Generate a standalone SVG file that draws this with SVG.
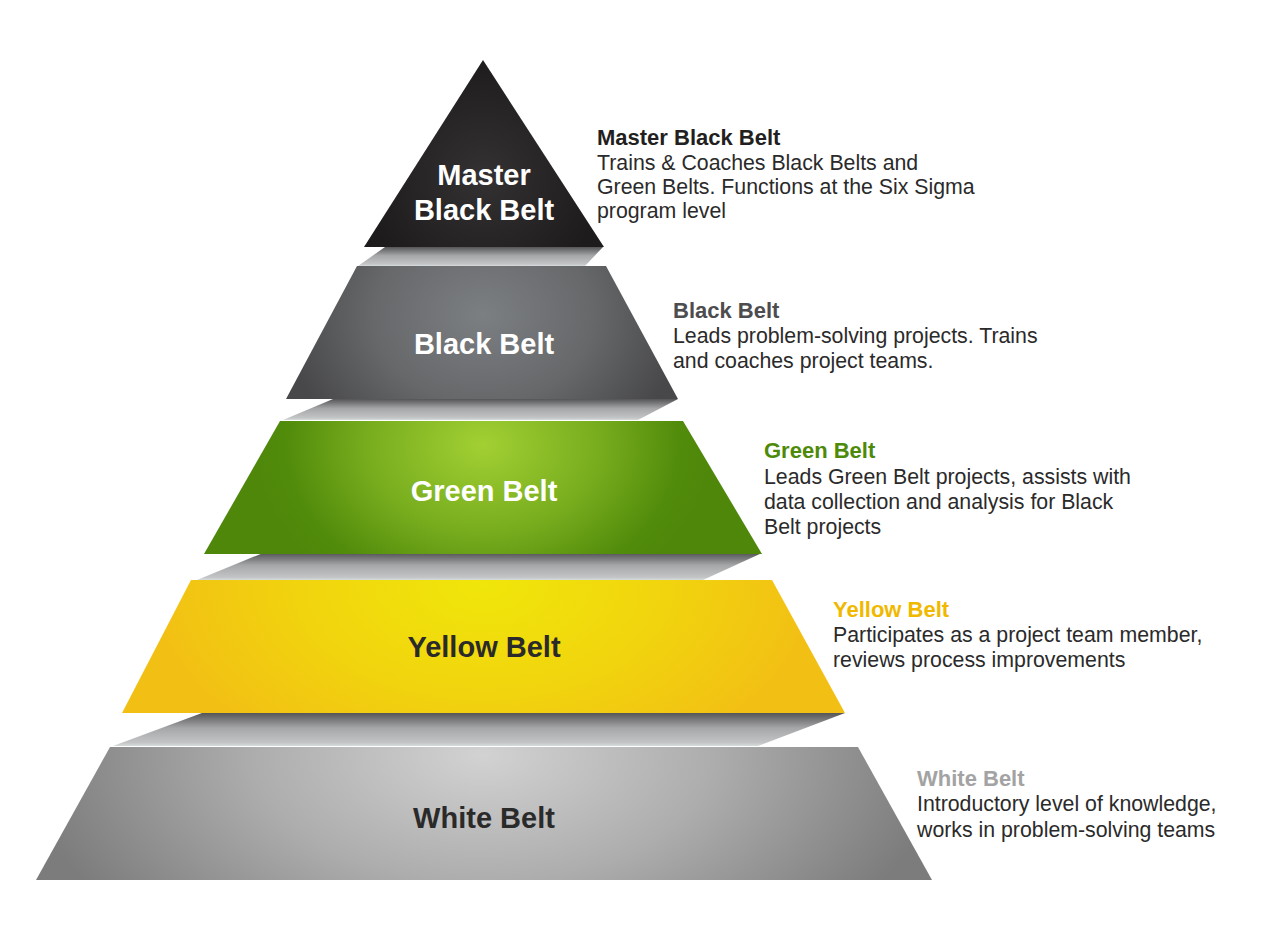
<svg xmlns="http://www.w3.org/2000/svg" width="1280" height="927" viewBox="0 0 1280 927">
<defs>
<linearGradient id="band" x1="0" y1="0" x2="0" y2="1">
<stop offset="0" stop-color="#555557"/>
<stop offset="0.45" stop-color="#a5a6a8"/>
<stop offset="0.9" stop-color="#c3c4c6"/>
<stop offset="1" stop-color="#d6dcdc"/>
</linearGradient>
<radialGradient id="gMaster" cx="483" cy="175" r="120" gradientUnits="userSpaceOnUse">
<stop offset="0" stop-color="#333132"/>
<stop offset="1" stop-color="#1e1b1c"/>
</radialGradient>
<radialGradient id="gBlack" cx="483" cy="315" r="200" gradientTransform="translate(483 315) scale(1 0.8) translate(-483 -315)" gradientUnits="userSpaceOnUse">
<stop offset="0" stop-color="#7c7f82"/>
<stop offset="0.55" stop-color="#66686a"/>
<stop offset="1" stop-color="#48484a"/>
</radialGradient>
<radialGradient id="gGreen" cx="483" cy="445" r="230" gradientTransform="translate(483 445) scale(1 0.75) translate(-483 -445)" gradientUnits="userSpaceOnUse">
<stop offset="0" stop-color="#a2d033"/>
<stop offset="0.5" stop-color="#78ad1e"/>
<stop offset="0.85" stop-color="#528c0b"/>
<stop offset="1" stop-color="#4e870a"/>
</radialGradient>
<radialGradient id="gYellow" cx="483" cy="585" r="330" gradientTransform="translate(483 585) scale(1 0.6) translate(-483 -585)" gradientUnits="userSpaceOnUse">
<stop offset="0" stop-color="#f0e60a"/>
<stop offset="0.55" stop-color="#f1d40e"/>
<stop offset="1" stop-color="#f2c014"/>
</radialGradient>
<radialGradient id="gWhite" cx="483" cy="755" r="460" gradientTransform="translate(483 755) scale(1 0.55) translate(-483 -755)" gradientUnits="userSpaceOnUse">
<stop offset="0" stop-color="#d2d2d2"/>
<stop offset="0.5" stop-color="#adadad"/>
<stop offset="1" stop-color="#7c7c7c"/>
</radialGradient>
</defs>
<style>
.lbl{font-family:"Liberation Sans",Arial,sans-serif;font-weight:bold;font-size:29px;text-anchor:middle}
.w{fill:#ffffff}
.d{fill:#2b2a2a}
.hd{font-family:"Liberation Sans",Arial,sans-serif;font-weight:bold;font-size:22px}
.tx{font-family:"Liberation Sans",Arial,sans-serif;font-size:21.3px;fill:#2b2a2a}
</style>
<rect width="1280" height="927" fill="#ffffff"/>
<g id="connectors">
<polygon points="385,247 603,247 585,266 358,266" fill="url(#band)"/>
<polygon points="333,399 678,399 638,420 283,420" fill="url(#band)"/>
<polygon points="263,553 762,553 703,580 197,580" fill="url(#band)"/>
<polygon points="202,713 845,713 758,746 113,746" fill="url(#band)"/>
</g>
<g id="master">
<polygon points="483,60 604,247 364,247" fill="url(#gMaster)"/>
<text class="lbl w" x="484" y="185">Master</text>
<text class="lbl w" x="484" y="220">Black Belt</text>
</g>
<g id="black">
<polygon points="357,266 606,266 678,399 286,399" fill="url(#gBlack)"/>
<text class="lbl w" x="484" y="354">Black Belt</text>
</g>
<g id="green">
<polygon points="280,421 683,421 762,554 204,554" fill="url(#gGreen)"/>
<text class="lbl w" x="484" y="501">Green Belt</text>
</g>
<g id="yellow">
<polygon points="191,580 772,580 845,713 122,713" fill="url(#gYellow)"/>
<text class="lbl d" x="484" y="657">Yellow Belt</text>
</g>
<g id="white">
<polygon points="110,747 858,747 932,880 36,880" fill="url(#gWhite)"/>
<text class="lbl d" x="484" y="828">White Belt</text>
</g>
<g id="desc-master">
<text class="hd" x="597" y="145" fill="#231f20">Master Black Belt</text>
<text class="tx" x="597" y="170">Trains &amp; Coaches Black Belts and</text>
<text class="tx" x="597" y="194">Green Belts. Functions at the Six Sigma</text>
<text class="tx" x="597" y="218">program level</text>
</g>
<g id="desc-black">
<text class="hd" x="673" y="318" fill="#4d4d4f">Black Belt</text>
<text class="tx" x="673" y="343">Leads problem-solving projects. Trains</text>
<text class="tx" x="673" y="368">and coaches project teams.</text>
</g>
<g id="desc-green">
<text class="hd" x="764" y="458" fill="#4e8a0a">Green Belt</text>
<text class="tx" x="764" y="484">Leads Green Belt projects, assists with</text>
<text class="tx" x="764" y="509">data collection and analysis for Black</text>
<text class="tx" x="764" y="534">Belt projects</text>
</g>
<g id="desc-yellow">
<text class="hd" x="833" y="617" fill="#f0b900">Yellow Belt</text>
<text class="tx" x="833" y="642">Participates as a project team member,</text>
<text class="tx" x="833" y="667">reviews process improvements</text>
</g>
<g id="desc-white">
<text class="hd" x="917" y="786" fill="#a3a3a3">White Belt</text>
<text class="tx" x="917" y="811">Introductory level of knowledge,</text>
<text class="tx" x="917" y="837">works in problem-solving teams</text>
</g>
</svg>
